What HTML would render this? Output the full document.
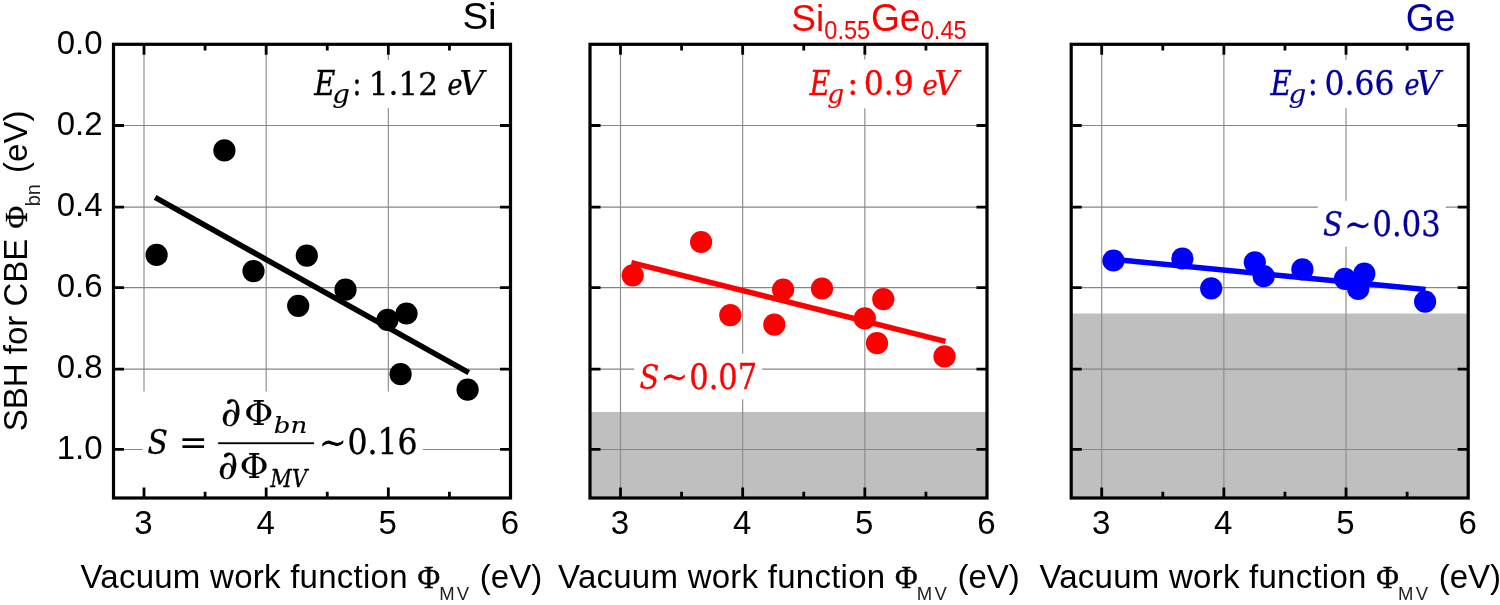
<!DOCTYPE html>
<html lang="en"><head><meta charset="utf-8"><title>SBH vs vacuum work function</title>
<style>html,body{margin:0;padding:0;background:#fff}svg{display:block}.s{font-family:"Liberation Sans", sans-serif}.r{font-family:"Liberation Serif", serif}.m{font-family:"DejaVu Serif Condensed", "DejaVu Serif", "Liberation Serif", serif;font-stretch:condensed}.w{font-family:"DejaVu Serif", "Liberation Serif", serif}.i{font-style:italic}</style>
</head><body>
<svg width="1500" height="605" viewBox="0 0 1500 605">
<defs><filter id="soft" x="0" y="0" width="100%" height="100%" filterUnits="userSpaceOnUse" color-interpolation-filters="sRGB"><feGaussianBlur stdDeviation="0.7"/></filter></defs>
<rect width="1500" height="605" fill="#fff"/>
<g filter="url(#soft)">
<rect width="1500" height="605" fill="#fff"/>
<g>
<line x1="144" y1="44.3" x2="144" y2="498" stroke="#8c8c8c" stroke-width="1.15"/>
<line x1="266.17" y1="44.3" x2="266.17" y2="498" stroke="#8c8c8c" stroke-width="1.15"/>
<line x1="388.34" y1="44.3" x2="388.34" y2="498" stroke="#8c8c8c" stroke-width="1.15"/>
<line x1="113.5" y1="125.5" x2="510.5" y2="125.5" stroke="#868686" stroke-width="1.15"/>
<line x1="113.5" y1="207.1" x2="510.5" y2="207.1" stroke="#868686" stroke-width="1.15"/>
<line x1="113.5" y1="287.6" x2="510.5" y2="287.6" stroke="#868686" stroke-width="1.15"/>
<line x1="113.5" y1="369.1" x2="510.5" y2="369.1" stroke="#868686" stroke-width="1.15"/>
<line x1="113.5" y1="449.45" x2="510.5" y2="449.45" stroke="#868686" stroke-width="1.15"/>
</g>
<g>
<rect x="590" y="412" width="397" height="86" fill="#bfbfbf"/>
<line x1="620.5" y1="44.3" x2="620.5" y2="498" stroke="#8c8c8c" stroke-width="1.15"/>
<line x1="742.67" y1="44.3" x2="742.67" y2="498" stroke="#8c8c8c" stroke-width="1.15"/>
<line x1="864.84" y1="44.3" x2="864.84" y2="498" stroke="#8c8c8c" stroke-width="1.15"/>
<line x1="590" y1="125.5" x2="987" y2="125.5" stroke="#868686" stroke-width="1.15"/>
<line x1="590" y1="207.1" x2="987" y2="207.1" stroke="#868686" stroke-width="1.15"/>
<line x1="590" y1="287.6" x2="987" y2="287.6" stroke="#868686" stroke-width="1.15"/>
<line x1="590" y1="369.1" x2="987" y2="369.1" stroke="#868686" stroke-width="1.15"/>
<line x1="590" y1="449.45" x2="987" y2="449.45" stroke="#868686" stroke-width="1.15"/>
</g>
<g>
<rect x="1071.2" y="313.5" width="397" height="184.5" fill="#bfbfbf"/>
<line x1="1101.7" y1="44.3" x2="1101.7" y2="498" stroke="#8c8c8c" stroke-width="1.15"/>
<line x1="1223.87" y1="44.3" x2="1223.87" y2="498" stroke="#8c8c8c" stroke-width="1.15"/>
<line x1="1346.04" y1="44.3" x2="1346.04" y2="498" stroke="#8c8c8c" stroke-width="1.15"/>
<line x1="1071.2" y1="125.5" x2="1468.2" y2="125.5" stroke="#868686" stroke-width="1.15"/>
<line x1="1071.2" y1="207.1" x2="1468.2" y2="207.1" stroke="#868686" stroke-width="1.15"/>
<line x1="1071.2" y1="287.6" x2="1468.2" y2="287.6" stroke="#868686" stroke-width="1.15"/>
<line x1="1071.2" y1="369.1" x2="1468.2" y2="369.1" stroke="#868686" stroke-width="1.15"/>
<line x1="1071.2" y1="449.45" x2="1468.2" y2="449.45" stroke="#868686" stroke-width="1.15"/>
</g>
<rect x="308" y="60" width="184" height="48.2" fill="#fff"/>
<rect x="803" y="59.5" width="165" height="48.9" fill="#fff"/>
<rect x="1264" y="59.8" width="185" height="48.4" fill="#fff"/>
<rect x="142.5" y="391.5" width="280.5" height="104.5" fill="#fff"/>
<rect x="634.2" y="353.6" width="128" height="45.7" fill="#fff"/>
<rect x="1317.7" y="200.8" width="128" height="45.7" fill="#fff"/>
<g>
<line x1="155.08" y1="197.41" x2="468.72" y2="372.69" stroke="#000000" stroke-width="5.5"/>
<circle cx="156.6" cy="254.9" r="11.1" fill="#000000"/>
<circle cx="224.4" cy="150.4" r="11.1" fill="#000000"/>
<circle cx="253.5" cy="271.1" r="11.1" fill="#000000"/>
<circle cx="298.2" cy="305.8" r="11.1" fill="#000000"/>
<circle cx="306.8" cy="255.6" r="11.1" fill="#000000"/>
<circle cx="345.5" cy="289.7" r="11.1" fill="#000000"/>
<circle cx="387.5" cy="319.8" r="11.1" fill="#000000"/>
<circle cx="400.6" cy="374.2" r="11.1" fill="#000000"/>
<circle cx="406.5" cy="313.5" r="11.1" fill="#000000"/>
<circle cx="467.6" cy="389.7" r="11.1" fill="#000000"/>
<path d="M144 44.3v10.5M144 498v-10.5M205.09 44.3v6.2M205.09 498v-6.2M266.17 44.3v10.5M266.17 498v-10.5M327.25 44.3v6.2M327.25 498v-6.2M388.34 44.3v10.5M388.34 498v-10.5M449.43 44.3v6.2M449.43 498v-6.2M113.5 125.5h10.5M510.5 125.5h-10.5M113.5 207.1h10.5M510.5 207.1h-10.5M113.5 287.6h10.5M510.5 287.6h-10.5M113.5 369.1h10.5M510.5 369.1h-10.5M113.5 449.45h10.5M510.5 449.45h-10.5" stroke="#000" stroke-width="2.8" fill="none"/>
<rect x="113.5" y="44.3" width="397" height="453.7" fill="none" stroke="#000" stroke-width="3.2"/>
<text class="s" x="143.4" y="533.7" font-size="33" text-anchor="middle">3</text>
<text class="s" x="265.57" y="533.7" font-size="33" text-anchor="middle">4</text>
<text class="s" x="387.74" y="533.7" font-size="33" text-anchor="middle">5</text>
<text class="s" x="509.91" y="533.7" font-size="33" text-anchor="middle">6</text>
<text class="s" x="80.5" y="588.3" font-size="33" textLength="327" lengthAdjust="spacing">Vacuum work function</text>
<text class="r" x="417.47" y="588.1" font-size="30.92" stroke="#000" stroke-width="0.45">Φ</text>
<text class="s" x="439.2" y="600.3" font-size="18.5" fill="#222" letter-spacing="2.2">MV</text>
<text class="s" x="479.8" y="588.3" font-size="33">(eV)</text>
</g>
<g>
<line x1="631.42" y1="262.65" x2="945.48" y2="341.45" stroke="#ff0000" stroke-width="5.5"/>
<circle cx="632.7" cy="275.3" r="11.1" fill="#ff0000"/>
<circle cx="701.1" cy="242" r="11.1" fill="#ff0000"/>
<circle cx="730.3" cy="315.2" r="11.1" fill="#ff0000"/>
<circle cx="774.3" cy="324.6" r="11.1" fill="#ff0000"/>
<circle cx="783.1" cy="289.5" r="11.1" fill="#ff0000"/>
<circle cx="822" cy="288.5" r="11.1" fill="#ff0000"/>
<circle cx="864.8" cy="318.4" r="11.1" fill="#ff0000"/>
<circle cx="877" cy="343.2" r="11.1" fill="#ff0000"/>
<circle cx="883.3" cy="299.2" r="11.1" fill="#ff0000"/>
<circle cx="944.5" cy="356.4" r="11.1" fill="#ff0000"/>
<path d="M620.5 44.3v10.5M620.5 498v-10.5M681.59 44.3v6.2M681.59 498v-6.2M742.67 44.3v10.5M742.67 498v-10.5M803.75 44.3v6.2M803.75 498v-6.2M864.84 44.3v10.5M864.84 498v-10.5M925.92 44.3v6.2M925.92 498v-6.2M590 125.5h10.5M987 125.5h-10.5M590 207.1h10.5M987 207.1h-10.5M590 287.6h10.5M987 287.6h-10.5M590 369.1h10.5M987 369.1h-10.5M590 449.45h10.5M987 449.45h-10.5" stroke="#000" stroke-width="2.8" fill="none"/>
<rect x="590" y="44.3" width="397" height="453.7" fill="none" stroke="#000" stroke-width="3.2"/>
<text class="s" x="619.9" y="533.7" font-size="33" text-anchor="middle">3</text>
<text class="s" x="742.07" y="533.7" font-size="33" text-anchor="middle">4</text>
<text class="s" x="864.24" y="533.7" font-size="33" text-anchor="middle">5</text>
<text class="s" x="986.41" y="533.7" font-size="33" text-anchor="middle">6</text>
<text class="s" x="558.1" y="588.3" font-size="33" textLength="327" lengthAdjust="spacing">Vacuum work function</text>
<text class="r" x="895.07" y="588.1" font-size="30.92" stroke="#000" stroke-width="0.45">Φ</text>
<text class="s" x="916.8" y="600.3" font-size="18.5" fill="#222" letter-spacing="2.2">MV</text>
<text class="s" x="957.4" y="588.3" font-size="33">(eV)</text>
</g>
<g>
<line x1="1112.4" y1="259.24" x2="1425.6" y2="289.46" stroke="#0000ff" stroke-width="5.5"/>
<circle cx="1113.4" cy="260.5" r="11.1" fill="#0000ff"/>
<circle cx="1182.4" cy="258.5" r="11.1" fill="#0000ff"/>
<circle cx="1211.2" cy="288.4" r="11.1" fill="#0000ff"/>
<circle cx="1254.8" cy="262.3" r="11.1" fill="#0000ff"/>
<circle cx="1263.7" cy="276.2" r="11.1" fill="#0000ff"/>
<circle cx="1302.4" cy="269.4" r="11.1" fill="#0000ff"/>
<circle cx="1345" cy="278.8" r="11.1" fill="#0000ff"/>
<circle cx="1358.2" cy="288.9" r="11.1" fill="#0000ff"/>
<circle cx="1364.3" cy="273.7" r="11.1" fill="#0000ff"/>
<circle cx="1425.1" cy="301.6" r="11.1" fill="#0000ff"/>
<path d="M1101.7 44.3v10.5M1101.7 498v-10.5M1162.79 44.3v6.2M1162.79 498v-6.2M1223.87 44.3v10.5M1223.87 498v-10.5M1284.95 44.3v6.2M1284.95 498v-6.2M1346.04 44.3v10.5M1346.04 498v-10.5M1407.12 44.3v6.2M1407.12 498v-6.2M1071.2 125.5h10.5M1468.2 125.5h-10.5M1071.2 207.1h10.5M1468.2 207.1h-10.5M1071.2 287.6h10.5M1468.2 287.6h-10.5M1071.2 369.1h10.5M1468.2 369.1h-10.5M1071.2 449.45h10.5M1468.2 449.45h-10.5" stroke="#000" stroke-width="2.8" fill="none"/>
<rect x="1071.2" y="44.3" width="397" height="453.7" fill="none" stroke="#000" stroke-width="3.2"/>
<text class="s" x="1101.1" y="533.7" font-size="33" text-anchor="middle">3</text>
<text class="s" x="1223.27" y="533.7" font-size="33" text-anchor="middle">4</text>
<text class="s" x="1345.44" y="533.7" font-size="33" text-anchor="middle">5</text>
<text class="s" x="1467.61" y="533.7" font-size="33" text-anchor="middle">6</text>
<text class="s" x="1039.4" y="588.3" font-size="33" textLength="327" lengthAdjust="spacing">Vacuum work function</text>
<text class="r" x="1376.37" y="588.1" font-size="30.92" stroke="#000" stroke-width="0.45">Φ</text>
<text class="s" x="1398.1" y="600.3" font-size="18.5" fill="#222" letter-spacing="2.2">MV</text>
<text class="s" x="1438.7" y="588.3" font-size="33">(eV)</text>
</g>
<text class="s" x="102.5" y="54" font-size="33" text-anchor="end">0.0</text>
<text class="s" x="102.5" y="135" font-size="33" text-anchor="end">0.2</text>
<text class="s" x="102.5" y="216" font-size="33" text-anchor="end">0.4</text>
<text class="s" x="102.5" y="297" font-size="33" text-anchor="end">0.6</text>
<text class="s" x="102.5" y="378" font-size="33" text-anchor="end">0.8</text>
<text class="s" x="102.5" y="459" font-size="33" text-anchor="end">1.0</text>
<g transform="translate(26.6 431.3) rotate(-90)">
<text class="s" x="0" y="0" font-size="33">SBH for CBE</text>
<text class="r" x="202.6" y="0" font-size="31.5" stroke="#000" stroke-width="0.3">Φ</text>
<text class="s" x="225" y="13.2" font-size="20" fill="#222">bn</text>
<text class="s" x="258.4" y="0" font-size="33">(eV)</text>
</g>
<g fill="#000">
<text class="s" transform="translate(462.4 29.03) scale(1.028 1)" font-size="37.5">Si</text>
</g>
<g fill="#f00">
<text class="s" x="791.27" y="30.93" font-size="36.95">Si</text>
<text class="s" transform="translate(824.36 38.64) scale(0.915 1)" font-size="25.75">0.55</text>
<text class="s" transform="translate(870.94 30.92) scale(0.969 1)" font-size="38.35">Ge</text>
<text class="s" transform="translate(920.65 38.64) scale(0.919 1)" font-size="25.75">0.45</text>
</g>
<g fill="#0000a8">
<text class="s" transform="translate(1405.84 31.41) scale(0.959 1)" font-size="38.77">Ge</text>
</g>
<g fill="#000" stroke="#000" stroke-width="0.3" stroke-linejoin="round">
<text class="m i" transform="translate(314.18 95.15) scale(0.991 1)" font-size="32.6">E</text>
<text class="w i" transform="translate(332.36 103.04) scale(1.046 1)" font-size="26.37" stroke-width="0.15">g</text>
<text class="m" transform="translate(352.53 94.68) scale(0.834 1)" font-size="34.93">:</text>
<text class="m" transform="translate(368.64 94.92) scale(1.084 1)" font-size="31.98">1.12</text>
<text class="m i" transform="translate(447.51 95.06) scale(0.971 1)" font-size="29.09">e</text>
<text class="w i" transform="translate(459.26 95.33) scale(1.041 1)" font-size="32.95" stroke-width="0.15">V</text>
</g>
<g fill="#f00" stroke="#f00" stroke-width="0.3" stroke-linejoin="round">
<text class="m i" transform="translate(809.47 95.15) scale(0.977 1)" font-size="32.6">E</text>
<text class="w i" x="827.3" y="102.91" font-size="26.5" stroke-width="0.15">g</text>
<text class="m" transform="translate(847.21 94.69) scale(1.076 1)" font-size="34.25">:</text>
<text class="m" transform="translate(863.65 95.01) scale(1.073 1)" font-size="32.64">0.9</text>
<text class="m i" x="922.51" y="95.07" font-size="28.54">e</text>
<text class="w i" transform="translate(934.17 95.23) scale(1.037 1)" font-size="32.81" stroke-width="0.15">V</text>
</g>
<g fill="#0000a0" stroke="#0000a0" stroke-width="0.3" stroke-linejoin="round">
<text class="m i" transform="translate(1270.48 95.25) scale(0.986 1)" font-size="32.74">E</text>
<text class="w i" transform="translate(1288.56 103.04) scale(1.053 1)" font-size="26.37" stroke-width="0.15">g</text>
<text class="m" transform="translate(1307.83 94.78) scale(0.951 1)" font-size="35.15">:</text>
<text class="m" transform="translate(1324.56 95.11) scale(1.060 1)" font-size="32.91">0.66</text>
<text class="m i" transform="translate(1404.51 95.16) scale(0.965 1)" font-size="29.27">e</text>
<text class="w i" transform="translate(1415.88 95.33) scale(1.029 1)" font-size="32.95" stroke-width="0.15">V</text>
</g>
<g fill="#f00" stroke="#f00" stroke-width="0.3" stroke-linejoin="round">
<text class="m i" transform="translate(639.5 388.9) scale(0.942 1)" font-size="33.96">S</text>
<text class="m" x="660.58" y="389.43" font-size="36.92" stroke-width="0.1">∼</text>
<text class="m" transform="translate(689.21 389.08) scale(0.973 1)" font-size="34.89">0.07</text>
</g>
<g fill="#0000a0" stroke="#0000a0" stroke-width="0.3" stroke-linejoin="round">
<text class="m i" transform="translate(1322.9 236.1) scale(0.942 1)" font-size="33.96">S</text>
<text class="m" x="1343.98" y="236.63" font-size="36.92" stroke-width="0.1">∼</text>
<text class="m" transform="translate(1372.61 236.28) scale(0.973 1)" font-size="34.89">0.03</text>
</g>
<g fill="#000" stroke="#000" stroke-width="0.3" stroke-linejoin="round">
<text class="m i" transform="translate(147.47 453.69) scale(0.963 1)" font-size="34.36">S</text>
<text class="m" transform="translate(178.73 454.24) scale(1.079 1)" font-size="35.71" stroke-width="0">=</text>
<rect x="218.3" y="442.4" width="95.6" height="1.6"/>
<text class="w i" transform="translate(220.78 425.67) scale(0.962 1)" font-size="41.44" stroke-width="0.15">∂</text>
<text class="w" transform="translate(244.37 425.12) scale(1.072 1)" font-size="32.95" stroke-width="0.15">Φ</text>
<text class="w i" transform="translate(273.85 433.02) scale(1.140 1)" font-size="22.82" stroke-width="0.15">bn</text>
<text class="w i" transform="translate(217.8 478.98) scale(0.969 1)" font-size="40.68" stroke-width="0.15">∂</text>
<text class="w" transform="translate(239.79 478.32) scale(1.063 1)" font-size="32.95" stroke-width="0.15">Φ</text>
<text class="m i" x="270.36" y="486.75" font-size="23.42">MV</text>
<text class="m" x="318.86" y="454.79" font-size="37.1" stroke-width="0.1">∼</text>
<text class="m" transform="translate(347.45 453.98) scale(0.995 1)" font-size="35.15">0.16</text>
</g>
</g>
</svg>
</body></html>
